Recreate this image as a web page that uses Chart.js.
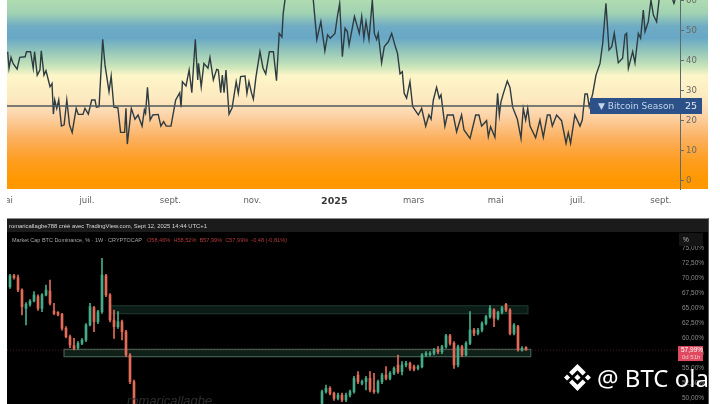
<!DOCTYPE html>
<html>
<head>
<meta charset="utf-8">
<script src="https://cdn.jsdelivr.net/npm/chart.js@4"></script>
<style>
  html, body { margin: 0; padding: 0; background: #fff; width: 720px; height: 404px; overflow: hidden; }
  canvas { position: absolute; }
  #seasonChart { left: 7px; top: 0; filter: blur(0.5px); }
  #dominanceChart { left: 7px; top: 218px; filter: blur(0.65px); }
  #stamp { position: absolute; left: 563px; top: 362px; width: 146px; height: 32px; color: #fff; font: 24px "Noto Sans", sans-serif; line-height: 32px; white-space: nowrap; }
  #stamp svg { position: absolute; left: 1px; top: 2px; width: 27px; height: 27px; }
  #stamp span { position: absolute; left: 34px; top: 0; }
</style>
</head>
<body>
<canvas id="seasonChart" width="701" height="215"></canvas>
<canvas id="dominanceChart" width="702" height="186"></canvas>
<div id="stamp">
  <svg viewBox="0 0 126 126" fill="#fff"><path d="M38.171 53.203l24.588-24.587 24.6 24.6 14.307-14.307L62.759 0 23.864 38.896l14.307 14.307zM0 62.759l14.307-14.307 14.307 14.307-14.307 14.307zM38.171 72.315l24.588 24.587 24.6-24.6 14.314 14.3-38.914 38.915-38.895-38.895-.02-.02zM97.211 62.765l14.307-14.307 14.307 14.307-14.307 14.307zM77.27 62.75L62.759 48.233 48.256 62.736l14.503 14.511z"/></svg>
  <span>@ BTC ola</span>
</div>
<script>
// top panel: altcoin season index, days counted from 1 May 2024
const seasonDays = [2, 3, 4.5, 6, 9, 11, 15, 16, 19, 21, 22, 24, 26, 27, 29, 30.5, 33.5, 35, 36, 37, 38.5, 40, 42, 44, 46, 48, 50, 53, 54.5, 58,
  59.5, 62, 64.5, 67, 68, 70, 72.7, 74.4, 77.4, 79, 81, 84, 86, 89, 90, 91, 94, 96.7, 99, 102, 103.7, 104.6, 106, 108, 110, 114, 116, 118, 120, 123.5,
  127, 130, 131, 132, 134.7, 137, 139, 141.6, 143.4, 144, 146, 148, 151, 152.5, 155, 157.5, 158.7, 160.5, 161.7, 163, 164.4, 166.7, 169, 172, 173.6, 175.3, 178.6, 180, 181.5, 183.5,
  184.8, 186.7, 189.7, 192, 194, 196.7, 199.7, 202, 204, 206, 207, 208.3, 210, 212, 219.5, 225.7, 229.4, 232, 235, 238, 240, 242, 245.5, 247.3, 249, 251, 253, 254.7, 256, 260, 263.6,
  265.4, 267, 268.6, 270.8, 273.3, 274.8, 276.5, 277.7, 280.2, 282.2, 285.2, 287.7, 290.1, 292, 293.9, 295.6, 297, 298.8, 301.3, 303.3, 307.5, 310, 313, 315.4, 317, 318.7, 321.1, 323.1, 324.4,
  327.3, 329.1, 333.5, 336, 339.7, 341.5, 346, 350.2, 352.6, 354.6, 358.3, 359.6, 361.3, 364.5, 366.5, 367.8, 369, 370.8, 373.7, 375.7, 377.7, 381.2, 383.9, 385.6, 387.4, 388.9, 390.6, 394.8, 398, 400.5,
  403.5, 405.5, 407.2, 410.4, 414.1, 417.4, 419.1, 420.8, 424, 427.8, 429.5, 431.5, 433.2, 434.7, 437.2, 439.7, 442.7, 444.7, 447.1, 449.4, 451.4, 453.3, 456.3, 459.5, 461.3, 462.5, 463.8, 467, 468.7, 471.2,
  472.9, 474.9, 476.2, 478.6, 480.6, 482.4, 484.8, 486.6, 488.5, 493.5, 496, 497.7, 498.5];
const seasonValues = [43.1, 37.6, 41.2, 39.2, 37.3, 41.2, 41.4, 43.1, 43.1, 37.6, 43.1, 35.3, 37, 43.4, 35.3, 36.8, 31.4, 32.5, 22.3, 27, 24.2, 27, 18.3, 18.7, 27, 18.7, 16.2, 24.2, 22.2, 22.2,
  24.2, 22.3, 27, 27, 24.6, 24.8, 47.2, 38.7, 29.8, 35, 24.6, 24.4, 16.2, 16.2, 24.2, 12.3, 24.2, 20.6, 22, 18.3, 23.7, 22.6, 31.2, 20.3, 22, 22.2, 18.3, 19.8, 18.3, 18.3,
  27, 29.4, 24.6, 33.1, 31.7, 37, 29.4, 47.2, 33.7, 39.2, 31.4, 39.2, 37.6, 41.2, 33.7, 37.2, 37, 29.4, 35.3, 29.4, 37, 22.3, 24.4, 33.1, 29.2, 34.8, 35, 29.2, 33.1, 29.2,
  27.3, 34.6, 43.1, 37.6, 35.7, 43.1, 43.1, 33.4, 49.2, 48, 55.9, 60.3, 67, 66, 64, 66, 60.3, 47.2, 53.1, 43.4, 48.7, 47.6, 49.2, 54.8, 59.2, 41.4, 50.9, 49.8, 45.3, 54.8, 49.2,
  54.8, 47.6, 53.1, 47.2, 60.3, 49.2, 47.2, 49.2, 39.4, 44.8, 46.4, 49.2, 45.3, 42.6, 35.7, 36.4, 29.2, 27.6, 33.1, 24.8, 22, 24.2, 18.3, 22, 20.6, 27, 31.2, 27.6, 28.7,
  18.3, 22, 22, 16.4, 22, 17, 14.2, 22, 22, 18.3, 20.1, 14.8, 18.1, 14.6, 29.2, 22, 26.4, 29.2, 33.3, 31.2, 24.6, 20.6, 14.2, 24.2, 20.3, 24.2, 18.3, 14.4, 20.3, 14.6,
  22, 22, 18.3, 22, 20.1, 12.6, 16.1, 12.6, 22, 18.3, 20.3, 29, 29, 24.8, 29, 35.3, 39.2, 45.9, 59.2, 43.7, 44.8, 49.2, 39.4, 40.9, 48.7, 49.2, 37.6, 43.1, 39.4, 49.2,
  47.6, 57, 49.8, 53.1, 60.3, 55.3, 53.1, 60.3, 63.7, 65, 61.4, 59.2, 60.3];
const seasonLevelDays = [1.5, 502.2];
const seasonLevelValues = [25, 25];
const monthDays = [0, 61, 123, 184, 245, 304, 365, 426, 488];
const monthLabels = ['mai', 'juil.', 'sept.', 'nov.', '2025', 'mars', 'mai', 'juil.', 'sept.'];
const seasonTicks = [0, 10, 20, 30, 40, 50, 60];

// bottom panel: BTC dominance candles, weeks 32-77 run below the crop of the picture
const candleWeeks = [0, 1, 2, 3, 4, 5, 6, 7, 8, 9, 10, 11, 12, 13, 14, 15, 16, 17, 18, 19, 20, 21, 22, 23, 24, 25, 26, 27, 28, 29, 30, 31,
  78, 79, 80, 81, 82, 83, 84, 85, 86, 87, 88, 89, 90, 91, 92, 93, 94, 95, 96, 97, 98, 99, 100, 101, 102, 103,
  104, 105, 106, 107, 108, 109, 110, 111, 112, 113, 114, 115, 116, 117, 118, 119, 120, 121, 122, 123, 124, 125, 126, 127, 128, 129];
const candleOpen = [68.56, 70.39, 70.06, 68, 64.94, 65.61, 66.17, 66.89, 64.94, 67.17, 67.83, 64.5, 64.28, 63.94, 61.61, 60.22, 58.72, 58.39, 59.11, 59.67, 62.17, 65.06, 62.72, 64.39, 70.39, 67.17, 63, 61.89, 62.72, 61.06, 57.17, 52.72,
  49.11, 51.06, 51.61, 50.78, 49.94, 50.5, 49.67, 50.5, 51.06, 53.83, 52.44, 52.72, 53.28, 51.33, 51.06, 52.72, 53.83, 53.28, 54.11, 55.5, 54.39, 55.5, 55.78, 55.22, 54.94, 55.22,
  57.17, 57.28, 57.44, 58, 57.72, 58.56, 60.39, 59.11, 55.5, 58.56, 57.17, 59.11, 61.33, 60.78, 61.33, 62.44, 63.56, 64.67, 63.28, 64.28, 65.61, 64.67, 60.78, 61.89, 58, 58.46];
const candleClose = [70.39, 70.06, 68, 65.22, 65.61, 66.17, 67.17, 64.94, 67.17, 68, 65.78, 64.11, 63.94, 61.61, 60.22, 58.83, 58.28, 59.11, 59.67, 62.17, 65.22, 62.72, 64.39, 70.5, 67.17, 63, 61.89, 62.72, 61.06, 57.17, 52.72, 48.56,
  51.06, 51.61, 50.78, 49.94, 50.5, 49.67, 50.5, 51.06, 53.28, 52.72, 52.72, 53.28, 51.33, 51.06, 52.72, 53.83, 53.28, 54.11, 54.94, 54.39, 55.5, 55.78, 54.94, 54.83, 55.22, 57.17,
  57.44, 57.44, 58, 57.72, 58.56, 60.39, 59.11, 55.5, 58.56, 57.17, 59.11, 61.33, 60.78, 61.33, 62.44, 63.56, 64.94, 63.28, 64.28, 65.06, 64.67, 60.78, 62.17, 58, 58.28, 57.99];
const candleHigh = [70.61, 70.61, 70.5, 68.2, 65.9, 66.4, 67.72, 67.2, 67.4, 68.83, 69.67, 65.78, 64.4, 64.1, 61.9, 60.5, 59.94, 59.4, 59.9, 62.4, 65.78, 65.3, 64.6, 73.28, 70.6, 67.4, 64.67, 64.39, 63, 61.3, 57.4, 53,
  51.3, 52.17, 51.9, 51, 50.8, 50.8, 50.8, 51.3, 53.6, 54.39, 53, 53.6, 54.39, 54.11, 53, 54.1, 55.22, 54.4, 55.2, 57.17, 56.06, 56.1, 56, 55.5, 55.5, 57.4,
  57.72, 57.72, 58.3, 58.56, 58.8, 60.61, 60.6, 59.4, 58.83, 58.8, 59.4, 64.39, 61.6, 61.6, 62.7, 63.8, 65.4, 64.9, 64.5, 65.3, 65.78, 64.9, 62.4, 62.1, 58.56, 58.52];
const candleLow = [68.28, 69.8, 67.72, 63.83, 62.17, 65.3, 66, 64.6, 64.39, 67, 65.5, 63.9, 63.7, 61.3, 60, 58.4, 58, 58.1, 58.9, 59.4, 62, 61.06, 62.4, 64.1, 66.9, 62.7, 59.94, 61.6, 59.67, 56.9, 52.4, 48.2,
  48.9, 50.8, 50.5, 49.6, 49.7, 49.4, 49.4, 50.2, 50.8, 52.4, 52.2, 51.33, 51, 50.78, 50.8, 52.4, 53, 53, 53.9, 54.1, 53.83, 55.2, 54.6, 54.5, 54.7, 55,
  56.9, 57, 57.2, 57.4, 57.4, 58.3, 58.8, 54.94, 55.2, 56.9, 57, 58.9, 60.4, 60.5, 61, 62.2, 63.3, 61.89, 63, 64, 64.4, 60.5, 60.5, 57.8, 57.8, 57.99];
const dominanceTicks = [50, 52.5, 55, 57.5, 60, 62.5, 65, 67.5, 70, 72.5, 75];
const lastPriceWeeks = [-0.75, 167];
const lastPriceValues = [57.99, 57.99];
const upperZone = { weeks: [25, 129.5], values: [64.05, 65.38] };
const lowerZone = { weeks: [13.5, 130.2], values: [56.88, 58.12] };

const seasonStops = [
  [0, '#b0dcb0'], [0.07, '#a0d2b3'], [0.14, '#6fabc4'], [0.2, '#68a8c6'], [0.27, '#92c5ba'], [0.35, '#c8e4ba'], [0.4, '#fdf6c9'],
  [0.53, '#fde8bf'], [0.6, '#fcd6ae'], [0.74, '#fcae5a'], [0.85, '#fe9e20'], [0.95, '#ff9800'], [1, '#ff9800']
];

const seasonBackground = {
  id: 'seasonBackground',
  beforeDraw(chart) {
    const { ctx, chartArea: area } = chart;
    const gradient = ctx.createLinearGradient(0, area.top, 0, area.bottom);
    seasonStops.forEach(s => gradient.addColorStop(s[0], s[1]));
    ctx.fillStyle = gradient;
    ctx.fillRect(0, area.top, chart.width, area.bottom - area.top);
  },
  afterDraw(chart) {
    const { ctx, scales } = chart;
    const y = scales.y.getPixelForValue(25);
    ctx.save();
    ctx.fillStyle = '#2c5189';
    ctx.fillRect(583, y - 8, 112, 16);
    ctx.textBaseline = 'middle';
    ctx.font = '9px "DejaVu Sans"';
    ctx.fillStyle = '#c3d6ec';
    ctx.fillText('▼ Bitcoin Season', 591, y + 0.5);
    ctx.fillStyle = '#e4edf6';
    ctx.font = '9.5px "DejaVu Sans"';
    ctx.fillText('25', 678, y + 0.5);
    ctx.restore();
  }
};

const isYearTick = c => c.tick && c.tick.label === '2025';

new Chart(document.getElementById('seasonChart'), {
  type: 'line',
  plugins: [seasonBackground],
  data: {
    datasets: [
      {
        data: seasonLevelDays.map((d, i) => ({ x: d, y: seasonLevelValues[i] })),
        borderColor: '#4c5a5c', borderWidth: 1.3, pointRadius: 0
      },
      {
        data: seasonDays.map((d, i) => ({ x: d, y: seasonValues[i] })),
        borderColor: '#2e3c42', borderWidth: 1.4, pointRadius: 0, tension: 0
      }
    ]
  },
  options: {
    responsive: false,
    animation: false,
    layout: { padding: 0 },
    plugins: { legend: { display: false }, tooltip: { enabled: false } },
    scales: {
      x: {
        type: 'linear', min: 1.5, max: 502.2,
        grid: { display: false, drawTicks: false }, border: { display: false },
        afterBuildTicks: s => { s.ticks = monthDays.map(v => ({ value: v })); },
        afterFit: s => { s.height = 26; s.paddingLeft = 0; s.paddingRight = 0; },
        ticks: {
          autoSkip: false, maxRotation: 0, padding: 7,
          callback: (v, i) => monthLabels[i],
          color: c => isYearTick(c) ? '#3a3a3a' : '#5c5c5c',
          font: c => isYearTick(c)
            ? { family: 'DejaVu Sans', size: 9.5, weight: 'bold' }
            : { family: 'DejaVu Sans', size: 8.5 }
        }
      },
      y: {
        position: 'right', min: -2.67, max: 60.33,
        border: { color: '#5d6a70', width: 1 },
        grid: { drawOnChartArea: false, tickLength: 4, color: '#5d6a70' },
        afterBuildTicks: s => { s.ticks = seasonTicks.map(v => ({ value: v })); },
        afterFit: s => { s.width = 28; s.paddingTop = 0; s.paddingBottom = 0; },
        ticks: { padding: 2, color: '#6a6a62', font: { family: 'DejaVu Sans', size: 8.5 } }
      }
    }
  }
});

const dominancePanel = {
  id: 'dominancePanel',
  beforeDraw(chart) {
    const { ctx, scales: { x, y } } = chart;
    ctx.save();
    ctx.fillStyle = '#000';
    ctx.fillRect(0, 0, chart.width, chart.height);
    ctx.fillStyle = '#1b1b1b';
    ctx.fillRect(0, 1, chart.width, 13);
    ctx.fillStyle = '#8a8a8a';
    ctx.fillRect(0, 0, chart.width, 1);
    ctx.fillStyle = '#555';
    ctx.fillRect(chart.width - 1, 0, 1, chart.height);
    [upperZone, lowerZone].forEach((zone, i) => {
      const left = x.getPixelForValue(zone.weeks[0]);
      const right = x.getPixelForValue(zone.weeks[1]);
      const top = y.getPixelForValue(zone.values[1]);
      const bottom = y.getPixelForValue(zone.values[0]);
      ctx.fillStyle = i ? '#0f2019' : '#0b1c17';
      ctx.fillRect(left, top, right - left, bottom - top);
      ctx.strokeStyle = i ? '#4e6b5e' : '#1f3a30';
      ctx.strokeRect(left, top, right - left, bottom - top);
    });
    ctx.restore();
  },
  afterDraw(chart) {
    const { ctx, scales: { y } } = chart;
    ctx.save();
    ctx.textBaseline = 'middle';
    ctx.font = '6px "Liberation Sans"';
    ctx.fillStyle = '#d8d8d8';
    ctx.fillText('romaricallagbe788 créé avec TradingView.com, Sept 12, 2025 14:44 UTC+1', 2, 8, 198);
    ctx.fillStyle = '#a8a8a8';
    ctx.fillText('Market Cap BTC Dominance, % · 1W · CRYPTOCAP', 5, 22, 130);
    ctx.fillStyle = '#b03a3a';
    ctx.fillText('O58,46%  H58,52%  B57,99%  C57,99%  -0,48 (-0,81%)', 140, 22, 140);
    ctx.fillStyle = '#2e2e2e';
    ctx.font = 'italic 13px "Liberation Sans"';
    ctx.fillText('romaricallagbe', 120, 183);
    // % button over the top of the price scale
    ctx.fillStyle = '#141414';
    ctx.fillRect(672, 15, 24, 13);
    ctx.fillStyle = '#bbb';
    ctx.font = '6.5px "Liberation Sans"';
    ctx.fillText('%', 676, 22);
    // last price tag
    const tag = y.getPixelForValue(57.99);
    ctx.fillStyle = '#df4a60';
    ctx.fillRect(671, tag - 4, 25, 15);
    ctx.fillStyle = '#fff';
    ctx.fillText('57,99%', 674, tag);
    ctx.fillStyle = '#f7c3cb';
    ctx.font = '6px "Liberation Sans"';
    ctx.fillText('0d 51h', 675, tag + 7);
    ctx.restore();
  }
};

const candleColor = i => candleClose[i] >= candleOpen[i] ? '#46ab88' : '#e46c58';

new Chart(document.getElementById('dominanceChart'), {
  type: 'bar',
  plugins: [dominancePanel],
  data: {
    datasets: [
      {
        type: 'line',
        data: lastPriceWeeks.map((w, i) => ({ x: w, y: lastPriceValues[i] })),
        borderColor: 'rgba(190, 60, 70, 0.4)', borderWidth: 1, borderDash: [1, 2], pointRadius: 0
      },
      {
        data: candleWeeks.map((w, i) => ({ x: w, y: [candleLow[i], candleHigh[i]] })),
        backgroundColor: candleWeeks.map((w, i) => candleColor(i)),
        barThickness: 1, grouped: false
      },
      {
        data: candleWeeks.map((w, i) => ({ x: w, y: [candleOpen[i], candleClose[i]] })),
        backgroundColor: candleWeeks.map((w, i) => candleColor(i)),
        barThickness: 2, grouped: false
      }
    ]
  },
  options: {
    responsive: false,
    animation: false,
    layout: { padding: { top: 14 } },
    plugins: { legend: { display: false }, tooltip: { enabled: false } },
    scales: {
      x: { type: 'linear', min: -0.75, max: 167, offset: false, display: false },
      y: {
        position: 'right', min: 49, max: 77.67,
        border: { display: false },
        grid: { display: false, drawTicks: false },
        afterBuildTicks: s => { s.ticks = dominanceTicks.map(v => ({ value: v })); },
        afterFit: s => { s.width = 31; s.paddingTop = 0; s.paddingBottom = 0; },
        ticks: {
          padding: 4, color: '#8a8a8a',
          font: { family: 'Liberation Sans', size: 6.5 },
          callback: v => v.toFixed(2).replace('.', ',') + '%'
        }
      }
    }
  }
});
</script>
</body>
</html>
